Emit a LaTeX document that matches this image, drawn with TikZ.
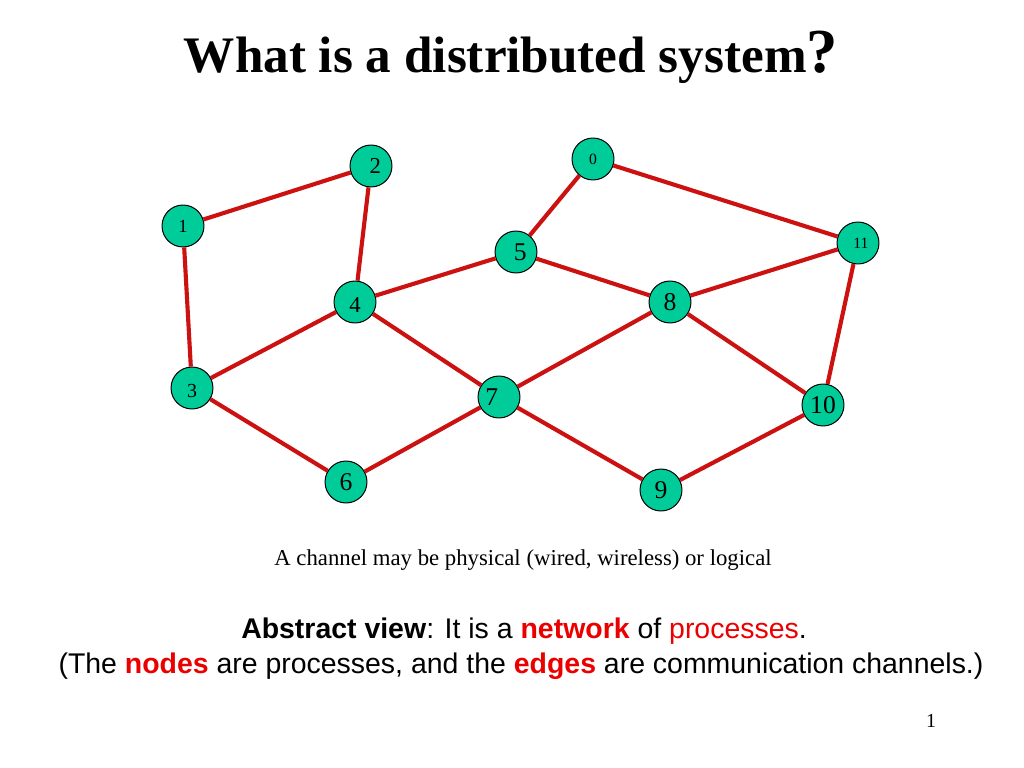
\documentclass[tikz,border=0pt]{standalone}
\usepackage{fontspec}
\setmainfont{Liberation Serif}
\newfontfamily\arial{Liberation Sans}
\definecolor{nodegreen}{RGB}{0,204,153}
\definecolor{edgered}{RGB}{204,17,17}
\definecolor{textred}{RGB}{235,0,0}
\begin{document}
\begin{tikzpicture}[x=0.703125pt,y=-0.703125pt,
  proc/.style={circle,draw=black,line width=0.7pt,fill=nodegreen,minimum size=29.5pt,inner sep=0pt},
  chan/.style={draw=edgered,line width=2.9pt},
  lbl/.style={anchor=base,inner sep=0pt}]
\useasboundingbox (0,0) rectangle (1024,768);
% nodes
\node[proc] (n0) at (593,159) {};
\node[proc] (n1) at (183,226) {};
\node[proc] (n2) at (371,166) {};
\node[proc] (n3) at (192,388) {};
\node[proc] (n4) at (355,302) {};
\node[proc] (n5) at (516,252) {};
\node[proc] (n6) at (346,482) {};
\node[proc] (n7) at (499,397) {};
\node[proc] (n8) at (670,302) {};
\node[proc] (n9) at (661,490) {};
\node[proc] (n10) at (823,405) {};
\node[proc] (n11) at (858,243) {};
% edges
\foreach \a/\b in {n1/n2,n1/n3,n2/n4,n4/n5,n4/n3,n4/n7,n5/n0,n5/n8,n0/n11,n11/n8,n11/n10,n8/n7,n8/n10,n3/n6,n6/n7,n7/n9,n9/n10}
  \draw[chan] (\a) -- (\b);
% labels
\node[font=\fontsize{11}{13}\selectfont] at (n0) {0};
\node[font=\fontsize{13}{15}\selectfont] at (n1) {1};
\node[font=\fontsize{16}{18}\selectfont] at ([xshift=3]n2.center) {2};
\node[font=\fontsize{14}{16}\selectfont] at ([yshift=-2]n3.center) {3};
\node[font=\fontsize{16}{18}\selectfont] at ([yshift=-2]n4.center) {4};
\node[font=\fontsize{18}{20}\selectfont] at ([xshift=3]n5.center) {5};
\node[font=\fontsize{18}{20}\selectfont] at ([yshift=0]n6.center) {6};
\node[font=\fontsize{18}{20}\selectfont] at ([xshift=-5]n7.center) {7};
\node[font=\fontsize{18}{20}\selectfont] at (n8) {8};
\node[font=\fontsize{18}{20}\selectfont] at (n9) {9};
\node[font=\fontsize{18}{20}\selectfont] at (n10) {10};
\node[font=\fontsize{11}{13}\selectfont] at ([xshift=2]n11.center) {11};
% texts
\node[lbl,font=\fontsize{36}{40}\selectfont\bfseries] (title) at (511,73) {What is a distributed system\fontsize{44}{48}\selectfont ?};
\node[lbl,font=\fontsize{16}{18}\selectfont] (cap) at (523,565) {A channel may be physical (wired, wireless) or logical};
\node[lbl,font=\arial\fontsize{20}{24}\selectfont] (l1) at (524,638) {\textbf{Abstract view}: It is a \textcolor{textred}{\textbf{network}} of \textcolor{textred}{processes}.};
\node[lbl,font=\arial\fontsize{20}{24}\selectfont] (l2) at (521,673) {(The \textcolor{textred}{\textbf{nodes}} are processes, and the \textcolor{textred}{\textbf{edges}} are communication channels.)};
\node[lbl,font=\fontsize{14}{16}\selectfont] (pg) at (931,727) {1};
\end{tikzpicture}
\end{document}
